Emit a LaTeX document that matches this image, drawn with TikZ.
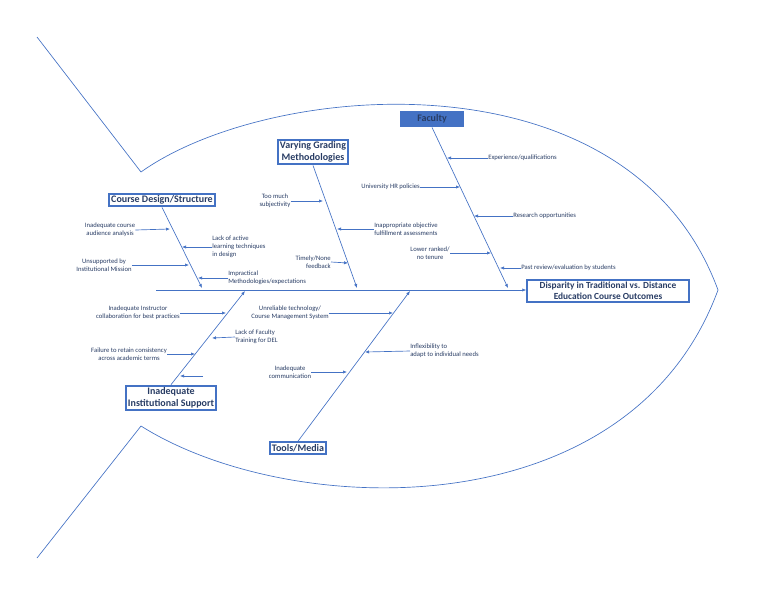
\documentclass[tikz,border=0pt]{standalone}
\usepackage{fontspec}
\setmainfont{Carlito}
\usetikzlibrary{arrows.meta}
\definecolor{fb}{RGB}{68,114,196}
\definecolor{ft}{RGB}{40,60,100}
\begin{document}
\begin{tikzpicture}[x=0.75pt,y=-0.75pt,
  ln/.style={draw=fb,line width=0.5pt},
  ar/.style={draw=fb,line width=0.5pt,-{Latex[length=3pt,width=2.5pt]}},
  cause/.style={text=ft,font=\fontsize{5}{6}\selectfont,inner sep=0pt,align=center},
  causel/.style={cause,align=left,anchor=west},
  causer/.style={cause,align=right,anchor=east},
  cat/.style={draw=fb,line width=1.6pt,text=ft,font=\fontsize{7.5}{9}\selectfont\bfseries,align=center,inner sep=1.5pt}]
\useasboundingbox (0,0) rectangle (768,594);
% fish outline
\coordinate (v1) at (141,172); \coordinate (v2) at (141,426);
\coordinate (t1) at (37,37); \coordinate (t2) at (37,558);
\draw[ln] (t1) -- (v1) .. controls (270,80) and (630,50) .. (718,290) .. controls (630,530) and (290,520) .. (v2) -- (t2);
% effect
\node[cat,minimum width=121pt,font=\fontsize{7}{8.5}\selectfont\bfseries] (eff) at (608,291) {Disparity in Traditional vs. Distance\\Education Course Outcomes};
\coordinate (sp) at (156,290);
\draw[ar] (sp) -- (eff.west |- sp);
% categories
\node[cat,fill=fb,minimum width=47pt,minimum height=11pt] (fac) at (432,119) {Faculty};
\node[cat] (vgm) at (313,152) {Varying Grading\\Methodologies};
\node[cat] (cds) at (162,200) {Course Design/Structure};
\node[cat] (iis) at (171,398) {Inadequate\\Institutional Support};
\node[cat] (tm) at (298,448) {Tools/Media};
\coordinate (fe) at (508,288); \coordinate (ve) at (357,288);
\coordinate (ce) at (202,288); \coordinate (ie) at (245,291); \coordinate (te) at (410,291);
\draw[ar] (fac.south) -- (fe);
\draw[ar] (vgm.south) -- (ve);
\draw[ar] (cds.south) -- (ce);
\draw[ar] (iis.north) -- (ie);
\draw[ar] (tm.north) -- (te);
% Faculty causes
\node[causel] (f1) at (488,158) {Experience/qualifications};
\draw[ar] (f1.west) -- (447,158);
\node[causer] (f2) at (420,187) {University HR policies};
\draw[ar] (f2.east) -- (460,187);
\node[causel] (f3) at (513,216) {Research opportunities};
\draw[ar] (f3.west) -- (474,216);
\node[causer,align=center] (f4) at (450,253) {Lower ranked/\\no tenure};
\draw[ar] (f4.east) -- (491,253);
\node[causel] (f5) at (521,268) {Past review/evaluation by students};
\draw[ar] (f5.west) -- (500,268);
% Grading causes
\node[cause] (g1) at (275,201) {Too much\\subjectivity};
\draw[ar] (g1.east) -- (323,201);
\node[causel] (g2) at (374,229) {Inappropriate objective\\fulfillment assessments};
\draw[ar] (g2.west) -- (337,229);
\node[causer] (g3) at (331,262) {Timely/None\\feedback};
\draw[ar] (g3.east) -- (348,263);
% Course design causes
\node[cause] (c1) at (110,230) {Inadequate course\\audience analysis};
\draw[ar] (c1.east) -- (170,229);
\node[causel] (c2) at (212,247) {Lack of active\\learning techniques\\in design};
\draw[ar] (c2.west) -- (182,247);
\node[cause] (c3) at (104,265) {Unsupported by\\Institutional Mission};
\draw[ar] (c3.east) -- (189,265);
\node[causel] (c4) at (228,278) {Impractical\\Methodologies/expectations};
\draw[ar] (c4.west) -- (198,278);
% Institutional causes
\node[cause] (i1) at (138,313) {Inadequate Instructor\\collaboration for best practices};
\draw[ar] (i1.east) -- (226,313);
\node[causel] (i2) at (235,337) {Lack of Faculty\\Training for DEL};
\draw[ar] (i2.west) -- (212,338);
\node[cause] (i3) at (129,354) {Failure to retain consistency\\across academic terms};
\draw[ar] (i3.east) -- (195,354);
\coordinate (i4) at (203,376);
\draw[ar] (i4) -- (180,376);
% Tools causes
\node[cause] (m1) at (290,313) {Unreliable technology/\\Course Management System};
\draw[ar] (m1.east) -- (393,313);
\node[causel] (m2) at (410,351) {Inflexibility to\\adapt to individual needs};
\draw[ar] (m2.west) -- (365,352);
\node[cause] (m3) at (290,372) {Inadequate\\communication};
\draw[ar] (m3.east) -- (347,372);
\end{tikzpicture}
\end{document}
